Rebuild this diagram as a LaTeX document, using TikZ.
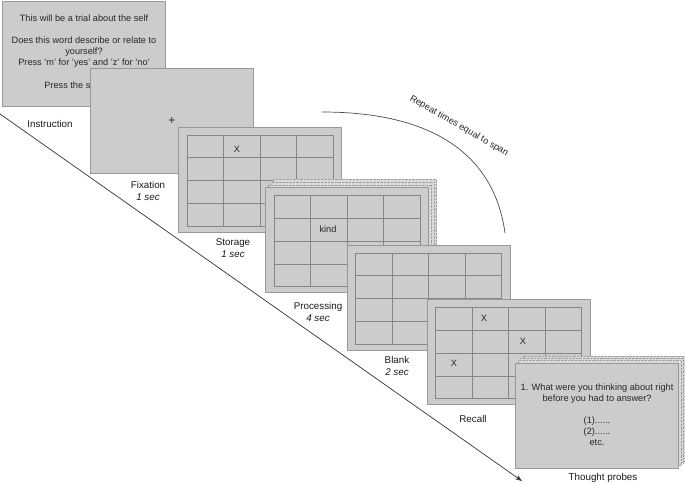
\documentclass[tikz,border=0pt]{standalone}
\usepackage{fontspec}
\setmainfont{Liberation Sans}
\usetikzlibrary{positioning,calc,arrows.meta}

% 4x4 grid drawn inside a card
\newcommand{\cardgrid}[1]{%
  \node[gridbox] (#1-g) at ($(#1)+(0,1)$) {};
  \foreach \i in {1,2,3}{
    \draw[gridline] ($(#1-g.north west)!\i/4!(#1-g.north east)$) -- ($(#1-g.south west)!\i/4!(#1-g.south east)$);
    \draw[gridline] ($(#1-g.north west)!\i/4!(#1-g.south west)$) -- ($(#1-g.north east)!\i/4!(#1-g.south east)$);
  }%
}

\begin{document}
\begin{tikzpicture}[x=1pt,y=-1pt]
            \tikzset{
                card/.style={
                    draw=gray!80,
                    fill=gray!40,
                    minimum width=163pt,
                    minimum height=105pt,
                    inner sep=0pt
                }
            }
            \tikzset{
                stacklayer/.style={
                    card,
                    draw=gray!75,
                    densely dotted,
                    fill=gray!30
                }
            }
            \tikzset{
                gridbox/.style={
                    draw=gray!95,
                    minimum width=146pt,
                    minimum height=91pt,
                    inner sep=0pt
                }
            }
            \tikzset{
                gridline/.style={
                    gray!95
                }
            }
            \tikzset{
                cardtext/.style={
                    font=\fontsize{9.2}{10.8}\selectfont,
                    text=black!85,
                    align=center,
                    inner sep=0pt
                }
            }
            \tikzset{
                cardlabel/.style={
                    font=\fontsize{9.8}{12}\selectfont,
                    text=black!90,
                    align=center,
                    inner sep=0pt
                }
            }
            \tikzset{
                timeline/.style={
                    black!80,
                    line width=0.7pt
                }
            }

            \useasboundingbox (0,0) rectangle (685,484);

            % time axis
            \coordinate (tStart) at (0,114);
            \coordinate (tEnd) at (522,481);
            \draw[timeline,-{Stealth[length=7pt,width=5pt]}] (tStart) -- (tEnd);

            % repeat arc
            \coordinate (arcA) at (322,112);
            \coordinate (arcB) at (505,233);
            \draw[timeline,black!70] (arcA) .. controls (440,112) and (495,160) .. (arcB);
            \node[cardtext,rotate=-30] (rep) at (459,126) {Repeat times equal to span};

            % instruction
            \node[card] (instr) at (84,53.5) {};
            \node[cardtext,anchor=north] (instrtxt) at (84,15) {This will be a trial about the self\\[10.8pt]
                Does this word describe or relate to\\yourself?\\Press 'm' for 'yes' and 'z' for 'no'\\[13pt]
                Press the spacebar};
            \node[cardlabel] (instrlab) at (50,124) {Instruction};

            % fixation
            \node[card] (fix) at (172,120.5) {};
            \node[cardtext,font=\fontsize{12}{12}\selectfont] (plus) at (172,121) {+};
            \node[cardlabel] (fixlab) at (148,191) {Fixation\\\textit{1 sec}};

            % storage
            \node[card] (stor) at (260,179.5) {};
            \cardgrid{stor}
            \node[cardtext] (storx) at (237,149) {X};
            \node[cardlabel] (storlab) at (233,248) {Storage\\\textit{1 sec}};

            % processing
            \foreach \k in {3,2,1}
                \node[stacklayer] (proc-s\k) at ($(347,240)+(2.7*\k,-2.7*\k)$) {};
            \node[card] (proc) at (347,240) {};
            \cardgrid{proc}
            \node[cardtext] (kind) at (328,229) {kind};
            \node[cardlabel] (proclab) at (318,312) {Processing\\\textit{4 sec}};

            % blank
            \node[card] (blank) at (428.5,297.5) {};
            \cardgrid{blank}
            \node[cardlabel] (blanklab) at (397,366) {Blank\\\textit{2 sec}};

            % recall
            \node[card] (recall) at (508.5,352) {};
            \cardgrid{recall}
            \node[cardtext] (recx1) at (484,318) {X};
            \node[cardtext] (recx2) at (523,341) {X};
            \node[cardtext] (recx3) at (454,363) {X};
            \node[cardlabel] (recalllab) at (473,419) {Recall};

            % thought probes
            \foreach \k in {3,2,1}
                \node[stacklayer] (probe-s\k) at ($(597,415.5)+(2.4*\k,-2.4*\k)$) {};
            \node[card] (probe) at (597,415.5) {};
            \node[cardtext,anchor=north] (probetxt) at (597,384) {1. What were you thinking about right\\before you had to answer?\\[11pt]
                (1)......\\(2)......\\etc.};
            \node[cardlabel] (probelab) at (603,478) {Thought probes};
        \end{tikzpicture}
\end{document}
